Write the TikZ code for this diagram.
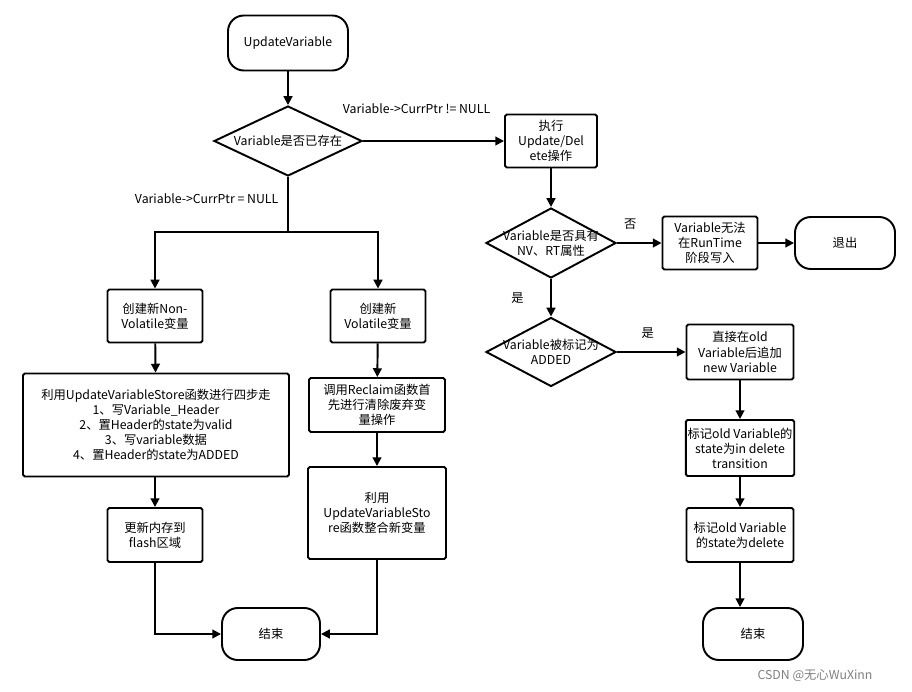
\documentclass[tikz,border=0pt]{standalone}
\usepackage{fontspec}
\setmainfont{Noto Sans CJK SC}
\usetikzlibrary{shapes.geometric,arrows.meta}
\begin{document}
\begin{tikzpicture}[x=0.02cm,y=-0.02cm,
  every node/.style={font=\fontsize{7}{8.6}\selectfont, align=center, inner sep=1pt},
  box/.style={draw, line width=1.1pt, rounded corners=1pt},
  term/.style={draw, line width=1.1pt, rounded corners=9pt},
  dia/.style={draw, line width=1.1pt, diamond, aspect=2.1, inner sep=0pt},
  lab/.style={font=\fontsize{7}{8.6}\selectfont},
  ln/.style={line width=1.1pt},
  ar/.style={line width=1.1pt, -{Triangle[length=5pt,width=5pt]}}]
\useasboundingbox (0,0) rectangle (912,692);

\node[term, minimum width=120*0.02cm, minimum height=55*0.02cm] (start) at (288,43) {UpdateVariable};
\node[dia, minimum width=148*0.02cm, minimum height=70*0.02cm] (d1) at (288,141) {Variable是否已存在};
\node[box, minimum width=92*0.02cm, minimum height=53*0.02cm, text width=82*0.02cm] (upd) at (551,141) {执行\\Update/Del\\ete操作};
\node[box, minimum width=95*0.02cm, minimum height=53*0.02cm] (nnv) at (155,316) {创建新Non-\\Volatile变量};
\node[box, minimum width=95*0.02cm, minimum height=53*0.02cm] (nv) at (378,316) {创建新\\Volatile变量};
\node[box, minimum width=266*0.02cm, minimum height=103*0.02cm] (store) at (156,425) {利用UpdateVariableStore函数进行四步走\\1、写Variable\_Header\\2、置Header的state为valid\\3、写variable数据\\4、置Header的state为ADDED};
\node[box, minimum width=136*0.02cm, minimum height=54*0.02cm, text width=126*0.02cm] (recl) at (377,405) {调用Reclaim函数首\\先进行清除废弃变\\量操作};
\node[box, minimum width=138*0.02cm, minimum height=92*0.02cm] (merge) at (377,513) {利用\\UpdateVariableSto\\re函数整合新变量};
\node[box, minimum width=95*0.02cm, minimum height=54*0.02cm] (flash) at (155,535) {更新内存到\\flash区域};
\node[term, minimum width=98*0.02cm, minimum height=52*0.02cm] (end1) at (271,634) {结束};
\node[dia, inner sep=-3.5pt, minimum width=130*0.02cm, minimum height=70*0.02cm] (d2) at (551,243) {Variable是否具有\\NV、RT属性};
\node[box, minimum width=95*0.02cm, minimum height=53*0.02cm] (nort) at (710,243) {Variable无法\\在RunTime\\阶段写入};
\node[term, minimum width=100*0.02cm, minimum height=52*0.02cm] (exit) at (845,243) {退出};
\node[dia, inner sep=-3.5pt, minimum width=130*0.02cm, minimum height=69*0.02cm] (d3) at (551,352) {Variable被标记为\\ADDED};
\node[box, minimum width=107*0.02cm, minimum height=55*0.02cm] (app) at (740,352) {直接在old\\Variable后追加\\new Variable};
\node[box, minimum width=107*0.02cm, minimum height=56*0.02cm] (mark1) at (740,448) {标记old Variable的\\state为in delete\\transition};
\node[box, minimum width=107*0.02cm, minimum height=54*0.02cm] (mark2) at (740,535) {标记old Variable\\的state为delete};
\node[term, minimum width=100*0.02cm, minimum height=52*0.02cm] (end2) at (753,634) {结束};

\coordinate (j) at (288,232);
\draw[ar] (start) -- (d1);
\draw[ar] (d1.east) -- node[lab, above=14pt, pos=0.38] {Variable->CurrPtr != NULL} (upd.west);
\draw[ln] (d1.south) -- node[lab, left=4pt, pos=0.4] {Variable->CurrPtr = NULL} (j);
\draw[ar] (j) -| (nnv.north);
\draw[ar] (j) -| (nv.north);
\draw[ar] (nnv) -- (store);
\draw[ar] (store.south -| flash.north) -- (flash.north);
\draw[ar] (nv) -- (recl);
\draw[ar] (recl) -- (merge);
\draw[ar] (flash.south) |- (end1.west);
\draw[ar] (merge.south) |- (end1.east);
\draw[ar] (upd) -- (d2);
\draw[ar] (d2) -- node[lab, above=6pt, pos=0.3] {否} (nort);
\draw[ar] (nort) -- (exit);
\draw[ar] (d2) -- node[lab, left=14pt] {是} (d3);
\draw[ar] (d3) -- node[lab, above=6pt, pos=0.45] {是} (app);
\draw[ar] (app) -- (mark1);
\draw[ar] (mark1) -- (mark2);
\draw[ar] (mark2.south) -- (end2.north -| mark2.south);
\node[lab, text=gray] (wm) at (815,676) {CSDN @无心WuXinn};
\end{tikzpicture}
\end{document}
